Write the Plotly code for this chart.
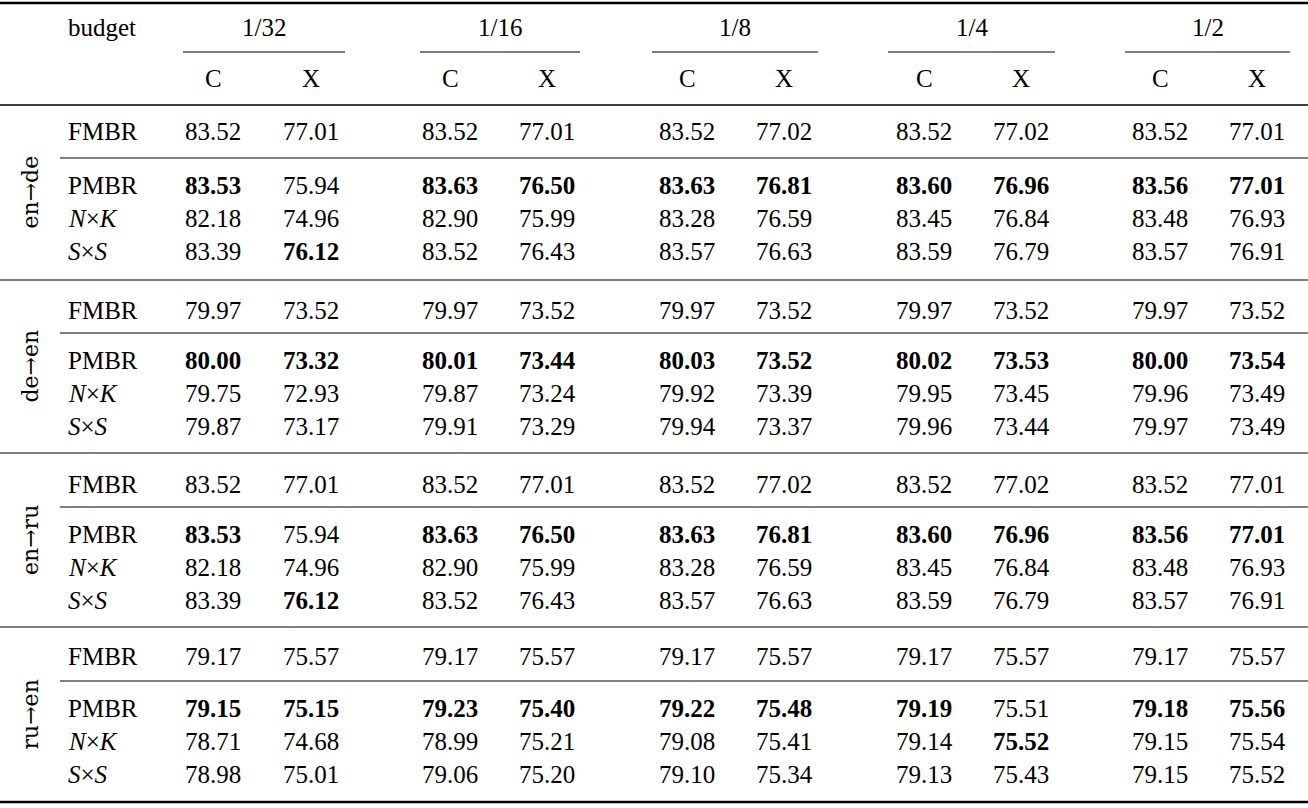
import plotly.graph_objects as go

budgets = ["1/32", "1/16", "1/8", "1/4", "1/2"]
subcols = ["C", "X"]
pairs = ["en→de", "de→en", "en→ru", "ru→en"]
methods = ["FMBR", "PMBR", "<i>N</i>×<i>K</i>", "<i>S</i>×<i>S</i>"]

en_de = [
    [83.52, 77.01, 83.52, 77.01, 83.52, 77.02, 83.52, 77.02, 83.52, 77.01],
    [83.53, 75.94, 83.63, 76.50, 83.63, 76.81, 83.60, 76.96, 83.56, 77.01],
    [82.18, 74.96, 82.90, 75.99, 83.28, 76.59, 83.45, 76.84, 83.48, 76.93],
    [83.39, 76.12, 83.52, 76.43, 83.57, 76.63, 83.59, 76.79, 83.57, 76.91],
]
de_en = [
    [79.97, 73.52, 79.97, 73.52, 79.97, 73.52, 79.97, 73.52, 79.97, 73.52],
    [80.00, 73.32, 80.01, 73.44, 80.03, 73.52, 80.02, 73.53, 80.00, 73.54],
    [79.75, 72.93, 79.87, 73.24, 79.92, 73.39, 79.95, 73.45, 79.96, 73.49],
    [79.87, 73.17, 79.91, 73.29, 79.94, 73.37, 79.96, 73.44, 79.97, 73.49],
]
en_ru = [
    [83.52, 77.01, 83.52, 77.01, 83.52, 77.02, 83.52, 77.02, 83.52, 77.01],
    [83.53, 75.94, 83.63, 76.50, 83.63, 76.81, 83.60, 76.96, 83.56, 77.01],
    [82.18, 74.96, 82.90, 75.99, 83.28, 76.59, 83.45, 76.84, 83.48, 76.93],
    [83.39, 76.12, 83.52, 76.43, 83.57, 76.63, 83.59, 76.79, 83.57, 76.91],
]
ru_en = [
    [79.17, 75.57, 79.17, 75.57, 79.17, 75.57, 79.17, 75.57, 79.17, 75.57],
    [79.15, 75.15, 79.23, 75.40, 79.22, 75.48, 79.19, 75.51, 79.18, 75.56],
    [78.71, 74.68, 78.99, 75.21, 79.08, 75.41, 79.14, 75.52, 79.15, 75.54],
    [78.98, 75.01, 79.06, 75.20, 79.10, 75.34, 79.13, 75.43, 79.15, 75.52],
]
bold_en_de = [
    [0]*10,
    [1, 0, 1, 1, 1, 1, 1, 1, 1, 1],
    [0]*10,
    [0, 1, 0, 0, 0, 0, 0, 0, 0, 0],
]
bold_de_en = [[0]*10, [1]*10, [0]*10, [0]*10]
bold_ru_en = [
    [0]*10,
    [1, 1, 1, 1, 1, 1, 1, 0, 1, 1],
    [0, 0, 0, 0, 0, 0, 0, 1, 0, 0],
    [0]*10,
]
all_values = [en_de, de_en, en_ru, ru_en]
all_bold = [bold_en_de, bold_de_en, bold_en_de, bold_ru_en]

W, H = 1308, 808
FONT = "Liberation Serif, Times New Roman, serif"
FS = 25
col_x = [213, 311, 450, 547, 687, 784, 924, 1021, 1160, 1257]
budget_lines = [(183, 345), (420, 580), (652, 818), (888, 1055), (1125, 1290)]
group_top = [105, 280, 453, 627]
group_bot = [280, 453, 627, 802]
fmbr_y = [131, 310, 484, 656]
mid_line = [158, 333, 507, 681]

fig = go.Figure()
ann = []
shapes = []

def txt(x, y, s, bold=False, anchor="center", angle=0):
    if bold:
        s = "<b>" + s + "</b>"
    ann.append(dict(x=x, y=y, text=s, showarrow=False, xanchor=anchor, yanchor="middle",
                    textangle=angle, font=dict(family=FONT, size=FS, color="black")))

def hline(x0, x1, y, w):
    shapes.append(dict(type="line", x0=x0, x1=x1, y0=y, y1=y, line=dict(color="black", width=w)))

hline(0, W, 3, 2.5)
hline(0, W, 105, 1.5)
hline(0, W, 802, 2.5)
txt(66, 27, "budget", anchor="left")
for i, b in enumerate(budgets):
    x0, x1 = budget_lines[i]
    txt((x0 + x1) / 2, 27, b)
    hline(x0, x1, 52, 1)
    for j, s in enumerate(subcols):
        txt(col_x[2 * i + j], 78, s)

for g, pair in enumerate(pairs):
    if g > 0:
        hline(0, W, group_top[g], 1)
    hline(60, W, mid_line[g], 1)
    ann.append(dict(x=30, y=(group_top[g] + group_bot[g]) / 2, text=pair, showarrow=False,
                    textangle=-90, font=dict(family="DejaVu Serif, serif", size=22, color="black")))
    ys = [fmbr_y[g], mid_line[g] + 27, mid_line[g] + 60, mid_line[g] + 93]
    for m, meth in enumerate(methods):
        txt(66, ys[m], meth, anchor="left")
        for c in range(10):
            txt(col_x[c], ys[m], f"{all_values[g][m][c]:.2f}", bold=bool(all_bold[g][m][c]))

fig.update_layout(
    width=W, height=H, margin=dict(l=0, r=0, t=0, b=0),
    plot_bgcolor="white", paper_bgcolor="white",
    xaxis=dict(range=[0, W], visible=False, fixedrange=True),
    yaxis=dict(range=[H, 0], visible=False, fixedrange=True),
    annotations=ann, shapes=shapes, showlegend=False,
)
fig.write_html("out.html", config={"displayModeBar": False},
               post_script="document.body.style.margin='0';document.body.style.padding='0';document.body.style.overflow='hidden';")
